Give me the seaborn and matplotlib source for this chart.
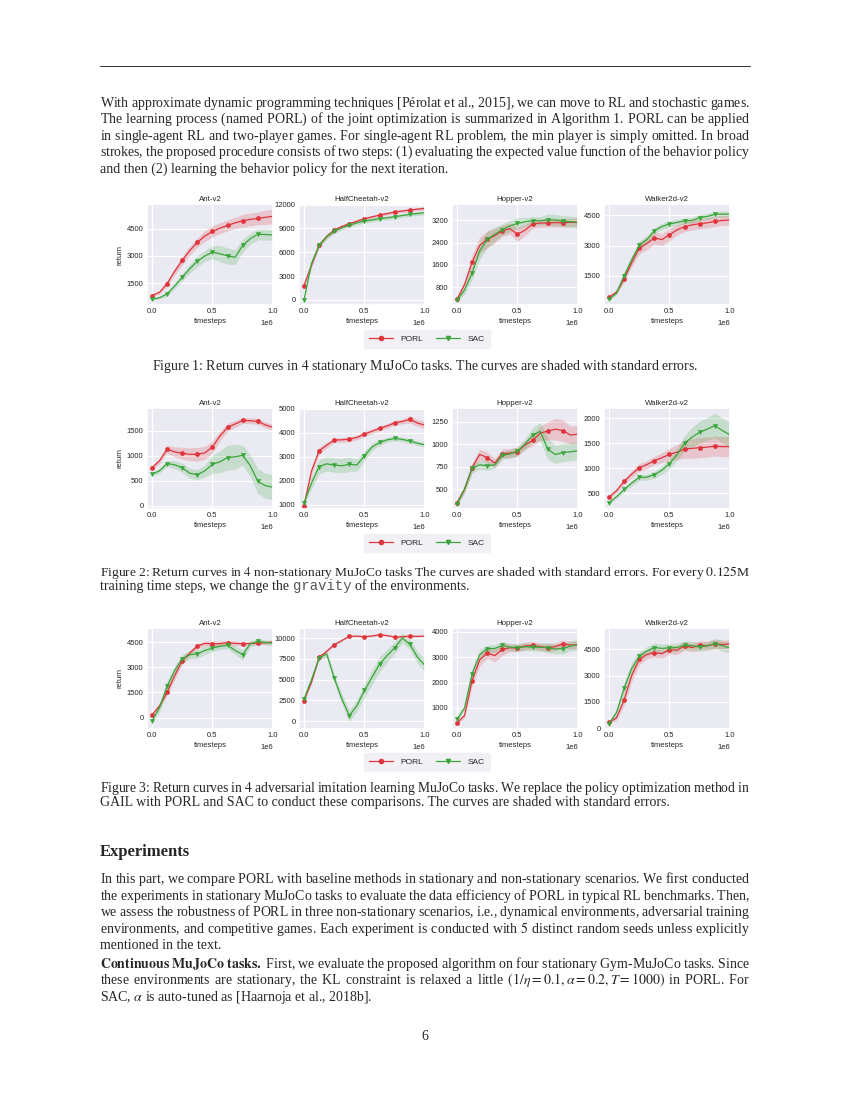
import matplotlib
matplotlib.use('Agg')
import numpy as np
import matplotlib.pyplot as plt
from matplotlib.lines import Line2D
import seaborn as sns

steps = [0, 62500, 125000, 187500, 250000, 312500, 375000, 437500, 500000,
         562500, 625000, 687500, 750000, 812500, 875000, 937500, 1000000]
tasks = ['Ant-v2', 'HalfCheetah-v2', 'Hopper-v2', 'Walker2d-v2']
methods = ['PORL', 'SAC']

# Figure 1: stationary tasks
ant_st_porl = [820, 1000, 1480, 2150, 2750, 3300, 3750, 4100, 4350, 4530, 4680, 4820, 4940, 5010, 5070, 5130, 5180]
ant_st_porl_se = [60, 100, 150, 200, 250, 250, 250, 300, 300, 300, 300, 300, 350, 350, 350, 400, 400]
ant_st_sac = [620, 700, 910, 1350, 1830, 2300, 2715, 3000, 3210, 3120, 3000, 2930, 3580, 3950, 4190, 4180, 4150]
ant_st_sac_se = [60, 80, 100, 150, 200, 250, 300, 300, 350, 450, 450, 400, 350, 300, 300, 300, 300]
hc_st_porl = [1820, 4400, 6890, 8000, 8790, 9250, 9590, 9920, 10230, 10460, 10690, 10880, 11070, 11200, 11320, 11430, 11540]
hc_st_porl_se = [150, 300, 300, 250, 250, 200, 200, 200, 200, 200, 200, 200, 200, 200, 200, 200, 200]
hc_st_sac = [0, 4600, 6880, 7950, 8660, 9080, 9420, 9700, 9930, 10080, 10230, 10350, 10480, 10630, 10780, 10880, 10990]
hc_st_sac_se = [50, 400, 300, 300, 300, 250, 250, 250, 250, 250, 250, 250, 250, 250, 250, 250, 250]
hop_st_porl = [370, 900, 1700, 2300, 2520, 2650, 2830, 2900, 2700, 2850, 3070, 3100, 3110, 3120, 3110, 3130, 3120]
hop_st_porl_se = [50, 150, 250, 300, 300, 250, 200, 200, 250, 200, 150, 150, 150, 150, 150, 150, 150]
hop_st_sac = [335, 700, 1310, 2100, 2520, 2700, 2870, 3000, 3090, 3150, 3190, 3180, 3220, 3210, 3170, 3150, 3130]
hop_st_sac_se = [50, 150, 250, 300, 300, 250, 200, 200, 200, 150, 150, 150, 200, 200, 200, 200, 200]
walk_st_porl = [440, 700, 1350, 2150, 2880, 3100, 3380, 3300, 3540, 3780, 3940, 4030, 4090, 4130, 4200, 4250, 4270]
walk_st_porl_se = [60, 100, 150, 200, 300, 300, 300, 300, 300, 250, 250, 250, 250, 250, 250, 250, 250]
walk_st_sac = [340, 650, 1500, 2300, 3010, 3300, 3740, 3950, 4070, 4150, 4230, 4250, 4390, 4450, 4550, 4560, 4570]
walk_st_sac_se = [50, 100, 200, 200, 200, 200, 150, 150, 150, 150, 150, 150, 150, 150, 150, 150, 150]

# Figure 2: non-stationary tasks
ant_ns_porl = [760, 900, 1130, 1080, 1050, 1030, 1030, 1060, 1180, 1400, 1570, 1640, 1710, 1705, 1690, 1620, 1570]
ant_ns_porl_se = [40, 60, 80, 100, 120, 130, 140, 130, 120, 100, 80, 70, 60, 60, 60, 60, 60]
ant_ns_sac = [630, 700, 845, 820, 760, 650, 620, 700, 830, 880, 965, 980, 1010, 800, 490, 400, 370]
ant_ns_sac_se = [40, 50, 60, 80, 90, 100, 100, 120, 180, 220, 250, 250, 200, 220, 250, 250, 250]
hc_ns_porl = [960, 2400, 3240, 3480, 3690, 3700, 3730, 3800, 3940, 4060, 4180, 4280, 4410, 4470, 4550, 4400, 4310]
hc_ns_porl_se = [60, 150, 150, 120, 100, 100, 100, 100, 100, 100, 100, 100, 100, 100, 150, 150, 150]
hc_ns_sac = [1070, 1900, 2580, 2700, 2650, 2620, 2680, 2650, 3040, 3400, 3590, 3700, 3760, 3720, 3650, 3560, 3490]
hc_ns_sac_se = [60, 250, 300, 300, 300, 300, 300, 250, 200, 150, 120, 100, 100, 100, 100, 100, 100]
hop_ns_porl = [350, 500, 740, 885, 850, 790, 895, 900, 915, 990, 1040, 1120, 1145, 1165, 1150, 1100, 1110]
hop_ns_porl_se = [20, 40, 50, 60, 60, 50, 50, 50, 50, 50, 60, 80, 100, 120, 120, 100, 100]
hop_ns_sac = [330, 500, 730, 770, 760, 770, 875, 890, 920, 1000, 1100, 1140, 945, 885, 905, 915, 925]
hop_ns_sac_se = [20, 40, 50, 50, 50, 40, 40, 50, 50, 60, 80, 100, 120, 100, 100, 100, 100]
walk_ns_porl = [420, 550, 735, 880, 1010, 1070, 1150, 1210, 1275, 1320, 1380, 1395, 1410, 1420, 1440, 1430, 1430]
walk_ns_porl_se = [30, 50, 60, 70, 80, 80, 80, 100, 120, 150, 180, 200, 200, 200, 200, 200, 200]
walk_ns_sac = [310, 430, 575, 700, 815, 820, 870, 960, 1090, 1270, 1500, 1620, 1720, 1780, 1850, 1750, 1665]
walk_ns_sac_se = [30, 40, 50, 60, 60, 60, 70, 80, 100, 120, 150, 200, 220, 230, 250, 250, 250]

# Figure 3: adversarial imitation learning
ant_ai_porl = [160, 700, 1510, 2500, 3400, 3850, 4260, 4420, 4400, 4410, 4460, 4420, 4400, 4420, 4440, 4460, 4500]
ant_ai_porl_se = [60, 150, 200, 250, 200, 150, 150, 150, 150, 150, 150, 150, 100, 100, 100, 100, 100]
ant_ai_sac = [-200, 600, 1870, 2800, 3500, 3750, 3800, 4000, 4140, 4250, 4300, 4000, 3750, 4400, 4540, 4480, 4440]
ant_ai_sac_se = [80, 250, 300, 300, 250, 250, 250, 250, 200, 200, 200, 250, 300, 200, 150, 150, 150]
hc_ai_porl = [2490, 4700, 7710, 8400, 9200, 9700, 10200, 10230, 10160, 10250, 10400, 10300, 10120, 10150, 10240, 10200, 10240]
hc_ai_porl_se = [80, 150, 150, 150, 150, 100, 100, 100, 100, 100, 100, 100, 100, 100, 100, 100, 100]
hc_ai_sac = [2650, 5000, 7590, 8100, 5180, 2690, 680, 1890, 3700, 5300, 6870, 7900, 8840, 10000, 9240, 7700, 6700]
hc_ai_sac_se = [80, 200, 300, 400, 500, 600, 700, 700, 800, 900, 900, 800, 700, 600, 600, 700, 800]
hop_ai_porl = [410, 700, 2080, 2900, 3170, 3070, 3310, 3380, 3370, 3450, 3470, 3420, 3380, 3420, 3540, 3480, 3500]
hop_ai_porl_se = [50, 100, 200, 250, 200, 250, 250, 150, 150, 150, 150, 150, 150, 150, 150, 150, 150]
hop_ai_sac = [550, 1000, 2350, 3100, 3340, 3350, 3470, 3400, 3380, 3420, 3400, 3400, 3380, 3330, 3340, 3450, 3500]
hop_ai_sac_se = [50, 100, 200, 200, 150, 150, 150, 150, 150, 150, 150, 150, 200, 200, 200, 200, 200]
walk_ai_porl = [340, 600, 1610, 3000, 3930, 4200, 4310, 4250, 4480, 4450, 4690, 4600, 4730, 4700, 4800, 4770, 4800]
walk_ai_porl_se = [60, 150, 300, 350, 300, 250, 250, 250, 250, 250, 250, 250, 250, 250, 250, 250, 250]
walk_ai_sac = [265, 900, 2270, 3400, 4100, 4400, 4600, 4550, 4580, 4600, 4730, 4700, 4630, 4700, 4820, 4700, 4580]
walk_ai_sac_se = [60, 200, 350, 350, 250, 250, 250, 250, 250, 250, 250, 250, 250, 250, 300, 300, 300]

rows = [
    [(ant_st_porl, ant_st_porl_se, ant_st_sac, ant_st_sac_se),
     (hc_st_porl, hc_st_porl_se, hc_st_sac, hc_st_sac_se),
     (hop_st_porl, hop_st_porl_se, hop_st_sac, hop_st_sac_se),
     (walk_st_porl, walk_st_porl_se, walk_st_sac, walk_st_sac_se)],
    [(ant_ns_porl, ant_ns_porl_se, ant_ns_sac, ant_ns_sac_se),
     (hc_ns_porl, hc_ns_porl_se, hc_ns_sac, hc_ns_sac_se),
     (hop_ns_porl, hop_ns_porl_se, hop_ns_sac, hop_ns_sac_se),
     (walk_ns_porl, walk_ns_porl_se, walk_ns_sac, walk_ns_sac_se)],
    [(ant_ai_porl, ant_ai_porl_se, ant_ai_sac, ant_ai_sac_se),
     (hc_ai_porl, hc_ai_porl_se, hc_ai_sac, hc_ai_sac_se),
     (hop_ai_porl, hop_ai_porl_se, hop_ai_sac, hop_ai_sac_se),
     (walk_ai_porl, walk_ai_porl_se, walk_ai_sac, walk_ai_sac_se)],
]

row_ylims = [
    [(300, 5860), (-630, 12080), (167, 3785), (58, 5063)],
    [(-68, 1960), (817, 5028), (280, 1400), (184, 2202)],
    [(-677, 5337), (-924, 11205), (168, 4158), (-38, 5710)],
]
row_yticks = [
    [[1500, 3000, 4500], [0, 3000, 6000, 9000, 12000], [800, 1600, 2400, 3200], [1500, 3000, 4500]],
    [[0, 500, 1000, 1500], [1000, 2000, 3000, 4000, 5000], [500, 750, 1000, 1250], [500, 1000, 1500, 2000]],
    [[0, 1500, 3000, 4500], [0, 2500, 5000, 7500, 10000], [1000, 2000, 3000, 4000], [0, 1500, 3000, 4500]],
]

RED = '#e0343c'
GREEN = '#3aa53a'
W, H = 850, 1100
SERIF = ['Liberation Serif', 'DejaVu Serif']
MONO = ['Liberation Mono', 'DejaVu Sans Mono']
BODY = 10

sns.set_theme(style='darkgrid')
plt.rcParams['font.family'] = ['Liberation Sans', 'DejaVu Sans']
plt.rcParams['mathtext.fontset'] = 'stix'

fig = plt.figure(figsize=(8.5, 11), dpi=100)
renderer = fig.canvas.get_renderer()

col_left = [147, 299, 452, 604]
row_top = [204, 408, 628]
ax_w, ax_h = 126, 101
legend_y = [339, 543, 762]
marks = list(range(0, 16, 2))
fs = 5.5

for r, panels in enumerate(rows):
    for c, (porl, porl_se, sac, sac_se) in enumerate(panels):
        ax = fig.add_axes([col_left[c] / W, 1 - (row_top[r] + ax_h) / H, ax_w / W, ax_h / H])
        x = np.array(steps)
        for y, se, col, mk in [(porl, porl_se, RED, 'o'), (sac, sac_se, GREEN, 'v')]:
            y = np.array(y, dtype=float)
            se = np.array(se, dtype=float)
            ax.fill_between(x, y - se, y + se, color=col, alpha=0.2, lw=0)
            sns.lineplot(x=x, y=y, ax=ax, color=col, marker=mk, markersize=3,
                         markevery=marks, lw=0.9, markeredgecolor=col,
                         markeredgewidth=0.4)
        ax.set_xlim(-41000, 1000000)
        ax.set_ylim(*row_ylims[r][c])
        ax.set_xticks([0, 500000, 1000000])
        ax.set_yticks(row_yticks[r][c])
        ax.ticklabel_format(axis='x', style='sci', scilimits=(0, 0))
        ax.xaxis.get_offset_text().set_fontsize(fs)
        ax.tick_params(labelsize=fs, pad=2.5, length=0)
        ax.grid(color='white', lw=0.8)
        ax.set_title(tasks[c], fontsize=fs + 0.2, pad=2.5)
        ax.set_xlabel('timesteps', fontsize=fs, labelpad=2)
        if c == 0:
            ax.set_ylabel('return', fontsize=fs, labelpad=2)
        else:
            ax.set_ylabel('')

    handles = [Line2D([], [], color=RED, marker='o', markersize=3, lw=0.9, markeredgecolor=RED),
               Line2D([], [], color=GREEN, marker='v', markersize=3, lw=0.9, markeredgecolor=GREEN)]
    leg = fig.legend(handles, methods, loc='center', bbox_to_anchor=(427 / W, 1 - legend_y[r] / H),
                     ncol=2, fontsize=fs + 0.5, frameon=True, handlelength=2.9, columnspacing=1.5,
                     borderpad=0.6, handletextpad=0.9)
    leg.get_frame().set_facecolor('#eeeef3')
    leg.get_frame().set_edgecolor('#eeeef3')


def put_line(line, y, mode='justify', size=BODY, x0=100, x1=750):
    words = []
    for w in line.split(' '):
        if len(w) > 2 and w.startswith('*') and w.endswith('*'):
            w = '$\\mathbf{' + w[1:-1] + '}$'
        words.append(w)
    kw = dict(family=SERIF, va='baseline')
    if mode == 'center':
        return fig.text((x0 + x1) / 2 / W, 1 - y / H, ' '.join(words), ha='center', fontsize=size, **kw)
    if mode == 'left':
        return fig.text(x0 / W, 1 - y / H, ' '.join(words), ha='left', fontsize=size, **kw)

    # justified: one text object, gaps made with mathtext \hspace;
    # shrink the size a touch when a line would come out too tight
    def build(s):
        return ('$\\hspace{%.4f}$' % s).join(words).replace('$$', '')
    n = len(words) - 1
    t = fig.text(x0 / W, 1 - y / H, build(0), ha='left', fontsize=size, **kw)
    while True:
        t.set_text(build(0))
        w0 = t.get_window_extent(renderer).width
        gap = (x1 - x0 - w0) / n
        if gap >= 3.0 or t.get_fontsize() <= 9.3:
            break
        t.set_fontsize(t.get_fontsize() - 0.1)
    t.set_text(build(1))
    unit = (t.get_window_extent(renderer).width - w0) / n
    t.set_text(build(max(gap, 2.0) / unit))
    return t


fig.add_artist(Line2D([100 / W, 750 / W], [1 - 66 / H, 1 - 66 / H], color='#333333', lw=0.7))

para1 = [
    "With approximate dynamic programming techniques [Pérolat et al., 2015], we can move to RL and stochastic games.",
    "The learning process (named PORL) of the joint optimization is summarized in Algorithm 1. PORL can be applied",
    "in single-agent RL and two-player games. For single-agent RL problem, the min player is simply omitted. In broad",
    "strokes, the proposed procedure consists of two steps: (1) evaluating the expected value function of the behavior policy",
    "and then (2) learning the behavior policy for the next iteration.",
]
para1_y = [107, 123, 140, 156, 173]
for i, line in enumerate(para1):
    put_line(line, para1_y[i], 'justify' if i < len(para1) - 1 else 'left')

put_line("Figure 1: Return curves in $4$ stationary MuJoCo tasks. The curves are shaded with standard errors.",
         370, 'center')

put_line("Figure 2: Return curves in $4$ non-stationary MuJoCo tasks The curves are shaded with standard errors. For every $0.125$M",
         576, 'justify')
# second caption line with the monospace word
t1 = put_line("training time steps, we change the", 590, 'left')
x_run = 100 + t1.get_window_extent(renderer).width + 3.5
t2 = fig.text(x_run / W, 1 - 590 / H, 'gravity', family=MONO, fontsize=BODY, va='baseline',
              ha='left', color='#555555')
x_run += t2.get_window_extent(renderer).width + 3.5
put_line("of the environments.", 590, 'left', x0=x_run)

put_line("Figure 3: Return curves in $4$ adversarial imitation learning MuJoCo tasks. We replace the policy optimization method in",
         792, 'justify')
put_line("GAIL with PORL and SAC to conduct these comparisons. The curves are shaded with standard errors.", 806, 'left')

fig.text(100 / W, 1 - 856 / H, 'Experiments', fontsize=12, weight='bold', family=SERIF, va='baseline')

para2 = [
    "In this part, we compare PORL with baseline methods in stationary and non-stationary scenarios. We first conducted",
    "the experiments in stationary MuJoCo tasks to evaluate the data efficiency of PORL in typical RL benchmarks. Then,",
    "we assess the robustness of PORL in three non-stationary scenarios, i.e., dynamical environments, adversarial training",
    "environments, and competitive games. Each experiment is conducted with $5$ distinct random seeds unless explicitly",
    "mentioned in the text.",
]
para2_y = [883, 900, 916, 933, 949]
for i, line in enumerate(para2):
    put_line(line, para2_y[i], 'justify' if i < len(para2) - 1 else 'left')

para3 = [
    "*Continuous* *MuJoCo* *tasks.* First, we evaluate the proposed algorithm on four stationary Gym-MuJoCo tasks. Since",
    r"these environments are stationary, the KL constraint is relaxed a little $(1/\eta=0.1,\alpha=0.2,T=1000)$ in PORL. For",
    r"SAC, $\alpha$ is auto-tuned as [Haarnoja et al., 2018b].",
]
para3_y = [968, 984, 1001]
for i, line in enumerate(para3):
    put_line(line, para3_y[i], 'justify' if i < len(para3) - 1 else 'left')

fig.text(425 / W, 1 - 1040 / H, '6', fontsize=BODY, family=SERIF, ha='center', va='baseline')

fig.savefig('out.png', dpi=100, facecolor='white')
